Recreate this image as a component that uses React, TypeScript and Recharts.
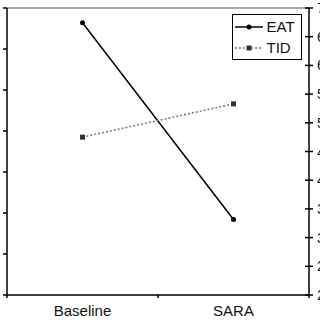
import React from "react";
import { LineChart, Line, XAxis, YAxis, Legend, ReferenceLine } from "recharts";

const categories = ["Baseline", "SARA"];
const eatScores = [33.2, 9.2];
const tidScores = [4.75, 5.33];
const leftTicks = [0, 5, 10, 15, 20, 25, 30, 35];
const rightTicks = [2, 2.5, 3, 3.5, 4, 4.5, 5, 5.5, 6, 6.5, 7];
const bottomTicks = [0, 0.5, 1, 1.5, 2];

const font = '"Liberation Sans", Arial, sans-serif';

// each category sits in the middle of its band on a numeric axis
const data = categories.map((name, i) => ({
  name,
  pos: i + 0.5,
  EAT: eatScores[i],
  TID: tidScores[i],
}));

// band edges get a tick mark, band centres get the category name
const BottomTick = (props: any) => {
  const { x, y, payload } = props;
  const v = payload.value;
  if (Number.isInteger(v)) {
    return <line x1={x} x2={x} y1={y - 3} y2={y} stroke="#000" strokeWidth={1.5} />;
  }
  return (
    <text x={x} y={y} dy={17.5} textAnchor="middle" fontSize={15} fill="#111">
      {categories[Math.floor(v)]}
    </text>
  );
};

// left axis: tick marks only, no labels
const BlankTick = () => <g />;

// right axis ticks cross the axis line
const RightTick = (props: any) => {
  const { x, y, payload } = props;
  const ax = x - 8;
  return (
    <g>
      <line x1={ax - 4} x2={ax + 4} y1={y} y2={y} stroke="#000" strokeWidth={1.5} />
      <text x={x} y={y} dy={5} fontSize={14} fill="#111" textAnchor="start">
        {payload.value}
      </text>
    </g>
  );
};

const SquareDot = (props: any) => {
  const { cx, cy } = props;
  return <rect x={cx - 2.5} y={cy - 2.5} width={5} height={5} fill="#333" />;
};

const LegendBox = (props: any) => {
  const items = props.payload || [];
  return (
    <div
      style={{
        border: "1.5px solid #000",
        background: "#fff",
        padding: "1px 2px 1px 1.5px",
        fontFamily: font,
        fontSize: 15,
        color: "#111",
        width: 64,
      }}
    >
      {items.map((item: any) => {
        const dashed = item.dataKey === "TID";
        return (
          <div key={item.value} style={{ display: "flex", alignItems: "center", height: 21 }}>
            <svg width={32} height={10}>
              <line
                x1={0}
                x2={28}
                y1={5}
                y2={5}
                stroke={dashed ? "#777" : "#000"}
                strokeWidth={1.5}
                strokeDasharray={dashed ? "2 2" : undefined}
              />
              {dashed ? (
                <rect x={11.5} y={2.5} width={5} height={5} fill="#333" />
              ) : (
                <circle cx={14} cy={5} r={2.5} fill="#000" />
              )}
            </svg>
            <span>{item.value}</span>
          </div>
        );
      })}
    </div>
  );
};

export default function App() {
  return (
    <div
      style={{
        position: "absolute",
        left: 0,
        top: 0,
        width: 320,
        height: 320,
        overflow: "hidden",
        background: "#fff",
        fontFamily: font,
      }}
    >
      <LineChart
        width={389}
        height={320}
        data={data}
        margin={{ top: 8, right: 0, bottom: 0, left: 0 }}
        style={{ position: "absolute", left: -40, top: 0 }}
      >
        <XAxis
          dataKey="pos"
          type="number"
          domain={[0, categories.length]}
          ticks={bottomTicks}
          interval={0}
          tickLine={false}
          tickSize={3}
          tickMargin={0}
          tick={<BottomTick />}
          axisLine={{ stroke: "#000", strokeWidth: 1.5 }}
          height={25}
        />
        <YAxis
          yAxisId="left"
          domain={[0, 35]}
          ticks={leftTicks}
          interval={0}
          width={47}
          tickSize={4}
          tick={<BlankTick />}
          tickLine={{ stroke: "#000", strokeWidth: 1.5 }}
          axisLine={{ stroke: "#000", strokeWidth: 1.5 }}
        />
        <YAxis
          yAxisId="right"
          orientation="right"
          domain={[2, 7]}
          ticks={rightTicks}
          interval={0}
          width={40}
          tickSize={4}
          tickMargin={4}
          tickLine={false}
          tick={<RightTick />}
          axisLine={{ stroke: "#000", strokeWidth: 1.5 }}
        />
        <ReferenceLine yAxisId="left" y={35} stroke="#aaa" strokeWidth={2} />
        <Legend
          layout="vertical"
          align="center"
          verticalAlign="middle"
          content={<LegendBox />}
          wrapperStyle={{ top: 14, left: 272, width: "auto" }}
        />
        <Line
          yAxisId="left"
          dataKey="EAT"
          stroke="#000"
          strokeWidth={1.5}
          dot={{ r: 2.5, fill: "#000", stroke: "#000", strokeWidth: 0 }}
          isAnimationActive={false}
        />
        <Line
          yAxisId="right"
          dataKey="TID"
          stroke="#777"
          strokeWidth={1.5}
          strokeDasharray="2 2"
          dot={<SquareDot />}
          isAnimationActive={false}
        />
      </LineChart>
    </div>
  );
}
